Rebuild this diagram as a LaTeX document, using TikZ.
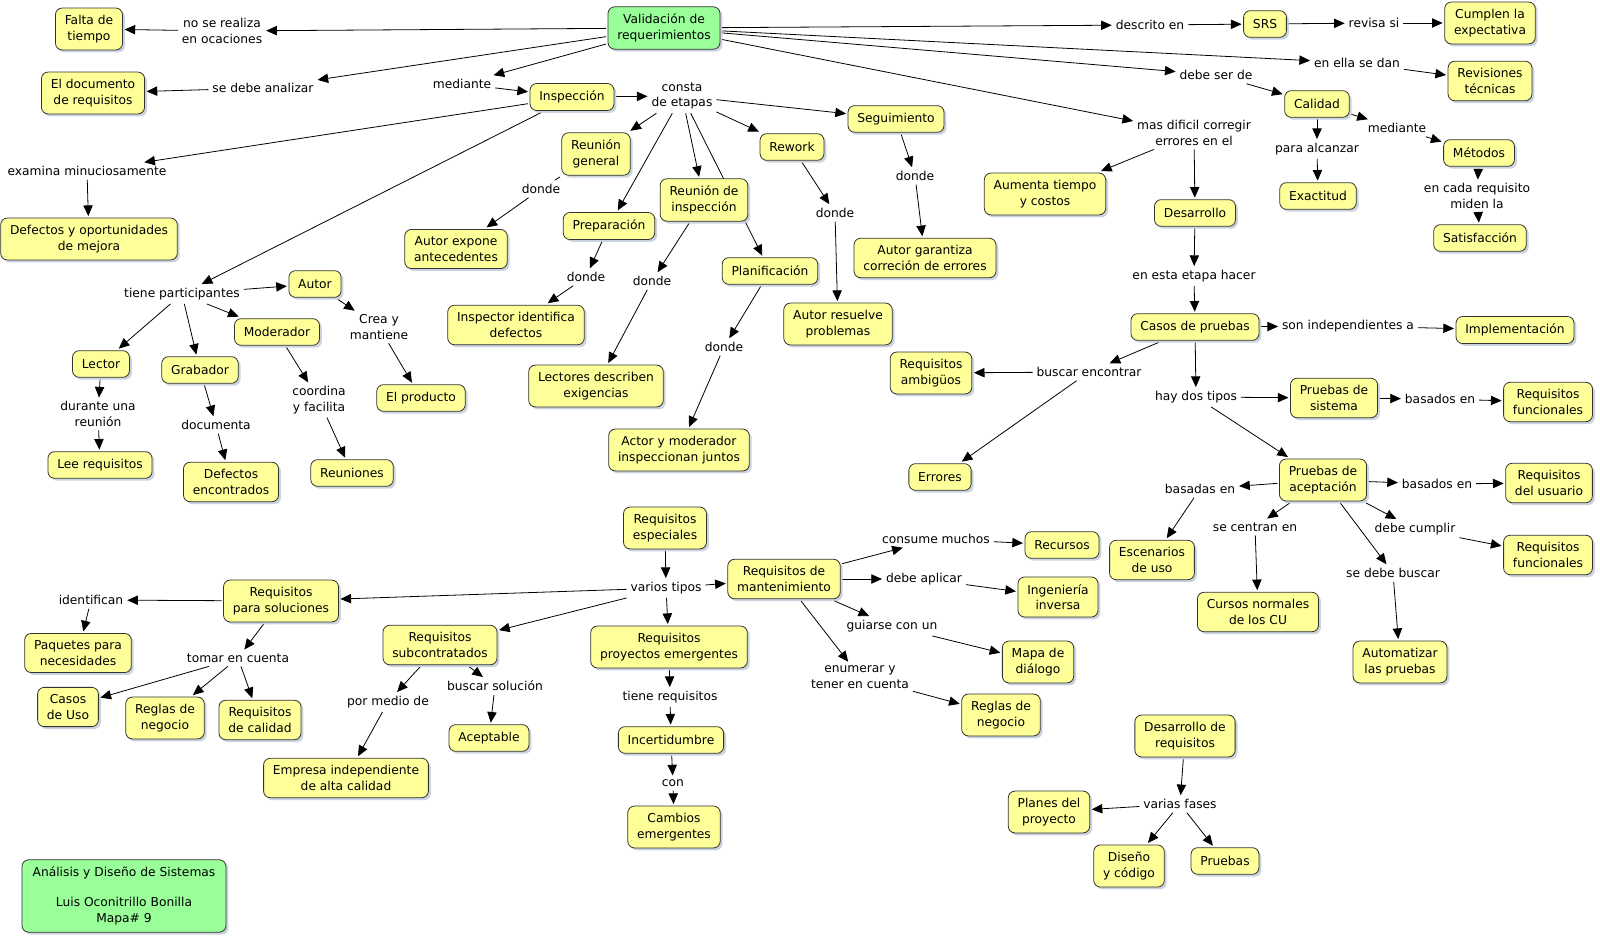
\documentclass[tikz,border=0pt]{standalone}
\usepackage{fontspec}
\setmainfont{DejaVu Sans}
\usetikzlibrary{arrows.meta,shadows,backgrounds}
\definecolor{cyel}{RGB}{255,255,153}
\definecolor{cgrn}{RGB}{153,255,153}
\definecolor{cshd}{RGB}{190,200,215}

\begin{document}
\begin{tikzpicture}[x=0.75pt,y=-0.75pt,
	font=\fontsize{9.2}{11.5}\selectfont,
	cpt/.style={draw=black!80,line width=0.6pt,fill=cyel,rounded corners=5pt,align=center,
		inner xsep=7pt,inner ysep=5.5pt,minimum height=20pt,outer sep=1.5pt,
		drop shadow={shadow xshift=1.8pt,shadow yshift=-1.8pt,fill=cshd,opacity=0.8}},
	top/.style={cpt,fill=cgrn},
	lnk/.style={align=center,inner sep=2pt,outer sep=1pt},
	arr/.style={-{Triangle[length=8pt,width=7pt]},line width=0.6pt}]
\useasboundingbox (0,0) rectangle (1600,937);

% conceptos
\node[top] (val) at (664,28) {Validación de\\requerimientos};
\node[cpt] (falta) at (89,29) {Falta de\\tiempo};
\node[cpt] (doc) at (93,93) {El documento\\de requisitos};
\node[cpt] (defop) at (89,239) {Defectos y oportunidades\\de mejora};
\node[cpt] (insp) at (572,97) {Inspección};
\node[cpt] (rgen) at (596,154) {Reunión\\general};
\node[cpt] (prep) at (609,226) {Preparación};
\node[cpt] (rins) at (704,200) {Reunión de\\inspección};
\node[cpt] (rework) at (792,147) {Rework};
\node[cpt] (seg) at (896,119) {Seguimiento};
\node[cpt] (plan) at (770,271) {Planificación};
\node[cpt] (autexp) at (456,249) {Autor expone\\antecedentes};
\node[cpt] (inspid) at (516,325) {Inspector identifica\\defectos};
\node[cpt] (lecdes) at (596,386) {Lectores describen\\exigencias};
\node[cpt] (actmod) at (679,450) {Actor y moderador\\inspeccionan juntos};
\node[cpt] (autres) at (838,324) {Autor resuelve\\problemas};
\node[cpt] (autgar) at (925,258) {Autor garantiza\\correción de errores};
\node[cpt] (aum) at (1045,194) {Aumenta tiempo\\y costos};
\node[cpt] (desa) at (1195,213) {Desarrollo};
\node[cpt] (srs) at (1265,24) {SRS};
\node[cpt] (cumpl) at (1490,23) {Cumplen la\\expectativa};
\node[cpt] (revtec) at (1490,81) {Revisiones\\técnicas};
\node[cpt] (cal) at (1317,104) {Calidad};
\node[cpt] (exact) at (1318,196) {Exactitud};
\node[cpt] (met) at (1479,153) {Métodos};
\node[cpt] (satis) at (1480,238) {Satisfacción};
\node[cpt] (autor) at (315,284) {Autor};
\node[cpt] (moder) at (277,332) {Moderador};
\node[cpt] (lector) at (101,364) {Lector};
\node[cpt] (grab) at (200,370) {Grabador};
\node[cpt] (prod) at (421,398) {El producto};
\node[cpt] (leereq) at (100,465) {Lee requisitos};
\node[cpt] (defenc) at (231,482) {Defectos\\encontrados};
\node[cpt] (reun) at (352,473) {Reuniones};
\node[cpt] (casos) at (1195,327) {Casos de pruebas};
\node[cpt] (impl) at (1515,330) {Implementación};
\node[cpt] (ramb) at (931,373) {Requisitos\\ambigüos};
\node[cpt] (err) at (940,477) {Errores};
\node[cpt] (psis) at (1334,398) {Pruebas de\\sistema};
\node[cpt] (rfun) at (1548,402) {Requisitos\\funcionales};
\node[cpt] (pacep) at (1323,480) {Pruebas de\\aceptación};
\node[cpt] (rusu) at (1549,483) {Requisitos\\del usuario};
\node[cpt] (esc) at (1152,560) {Escenarios\\de uso};
\node[cpt] (cursos) at (1258,612) {Cursos normales\\de los CU};
\node[cpt] (rfunb) at (1548,555) {Requisitos\\funcionales};
\node[cpt] (autom) at (1400,662) {Automatizar\\las pruebas};
\node[cpt] (resp) at (665,528) {Requisitos\\especiales};
\node[cpt] (rmant) at (784,579) {Requisitos de\\mantenimiento};
\node[cpt] (rpem) at (669,647) {Requisitos\\proyectos emergentes};
\node[cpt] (rsol) at (281,601) {Requisitos\\para soluciones};
\node[cpt] (paq) at (78,653) {Paquetes para\\necesidades};
\node[cpt] (cuso) at (68,707) {Casos\\de Uso};
\node[cpt] (rneg) at (165,718) {Reglas de\\negocio};
\node[cpt] (rcal) at (260,720) {Requisitos\\de calidad};
\node[cpt] (rsub) at (440,645) {Requisitos\\subcontratados};
\node[cpt] (empr) at (346,778) {Empresa independiente\\de alta calidad};
\node[cpt] (acep) at (489,738) {Aceptable};
\node[cpt] (incer) at (671,740) {Incertidumbre};
\node[cpt] (camb) at (674,827) {Cambios\\emergentes};
\node[cpt] (recur) at (1062,545) {Recursos};
\node[cpt] (ingi) at (1058,597) {Ingeniería\\inversa};
\node[cpt] (mapa) at (1038,662) {Mapa de\\diálogo};
\node[cpt] (rnegb) at (1001,715) {Reglas de\\negocio};
\node[cpt] (dreq) at (1185,736) {Desarrollo de\\requisitos};
\node[cpt] (planes) at (1049,812) {Planes del\\proyecto};
\node[cpt] (dise) at (1129,866) {Diseño\\y código};
\node[cpt] (prue) at (1225,861) {Pruebas};
\node[top,inner xsep=8pt] (anal) at (124,896) {Análisis y Diseño de Sistemas\\[11pt]Luis Oconitrillo Bonilla\\Mapa\# 9};

% frases de enlace
\node[lnk] (lnoreal) at (222,31) {no se realiza\\en ocaciones};
\node[lnk] (ldebana) at (263,88) {se debe analizar};
\node[lnk] (lmed) at (462,84) {mediante};
\node[lnk] (lexam) at (87,171) {examina minuciosamente};
\node[lnk] (lcons) at (682,96) {consta\\de etapas};
\node[lnk] (ldon1) at (541,189) {donde};
\node[lnk] (ldon2) at (586,277) {donde};
\node[lnk] (ldon3) at (652,281) {donde};
\node[lnk] (ldon4) at (724,347) {donde};
\node[lnk] (ldon5) at (835,213) {donde};
\node[lnk] (ldon6) at (915,176) {donde};
\node[lnk] (ldesc) at (1150,25) {descrito en};
\node[lnk] (lrev) at (1374,23) {revisa si};
\node[lnk] (lella) at (1357,63) {en ella se dan};
\node[lnk] (ldebser) at (1216,75) {debe ser de};
\node[lnk] (lmasdif) at (1194,133) {mas dificil corregir\\errores en el};
\node[lnk] (lmedb) at (1397,128) {mediante};
\node[lnk] (lpara) at (1317,149) {para alcanzar};
\node[lnk] (lcada) at (1477,196) {en cada requisito\\miden la};
\node[lnk] (letapa) at (1194,276) {en esta etapa hacer};
\node[lnk] (ltiene) at (182,294) {tiene participantes};
\node[lnk] (lcrea) at (379,327) {Crea y\\mantiene};
\node[lnk] (ldur) at (98,414) {durante una\\reunión};
\node[lnk] (ldoc) at (216,425) {documenta};
\node[lnk] (lcoor) at (319,400) {coordina\\y facilita};
\node[lnk] (lson) at (1348,326) {son independientes a};
\node[lnk] (lbus) at (1089,372) {buscar encontrar};
\node[lnk] (lhay) at (1196,397) {hay dos tipos};
\node[lnk] (lbas1) at (1440,399) {basados en};
\node[lnk] (lbas2) at (1437,484) {basados en};
\node[lnk] (lbasd) at (1200,489) {basadas en};
\node[lnk] (lcent) at (1255,527) {se centran en};
\node[lnk] (lcump) at (1415,529) {debe cumplir};
\node[lnk] (lbusc) at (1393,573) {se debe buscar};
\node[lnk] (lvar) at (666,588) {varios tipos};
\node[lnk] (liden) at (91,600) {identifican};
\node[lnk] (ltomar) at (238,658) {tomar en cuenta};
\node[lnk] (lpor) at (388,702) {por medio de};
\node[lnk] (lsol) at (495,686) {buscar solución};
\node[lnk] (ltreq) at (670,697) {tiene requisitos};
\node[lnk] (lcon) at (673,783) {con};
\node[lnk] (lcons2) at (936,539) {consume muchos};
\node[lnk] (lapl) at (924,579) {debe aplicar};
\node[lnk] (lgui) at (892,626) {guiarse con un};
\node[lnk] (lenum) at (860,677) {enumerar y\\tener en cuenta};
\node[lnk] (lfases) at (1180,804) {varias fases};

\begin{pgfonlayer}{background}
\fill[white] (0,0) rectangle (1600,937);
\draw[arr] (val) -- (lnoreal);
\draw[arr] (lnoreal) -- (falta);
\draw[arr] (val) -- (ldebana);
\draw[arr] (ldebana) -- (doc);
\draw[arr] (val) -- (lmed);
\draw[arr] (lmed) -- (insp);
\draw[arr] (insp) -- (lcons);
\draw[arr] (lcons) -- (rgen);
\draw[arr] (lcons) -- (prep);
\draw[arr] (lcons) -- (rins);
\draw[arr] (lcons) -- (plan);
\draw[arr] (lcons) -- (rework);
\draw[arr] (lcons) -- (seg);
\draw[line width=0.6pt] (rgen) -- (ldon1);
\draw[arr] (ldon1) -- (autexp);
\draw[arr] (prep) -- (ldon2);
\draw[arr] (ldon2) -- (inspid);
\draw[arr] (rins) -- (ldon3);
\draw[arr] (ldon3) -- (lecdes);
\draw[arr] (plan) -- (ldon4);
\draw[arr] (ldon4) -- (actmod);
\draw[arr] (rework) -- (ldon5);
\draw[arr] (ldon5) -- (autres);
\draw[arr] (seg) -- (ldon6);
\draw[arr] (ldon6) -- (autgar);
\draw[arr] (val) -- (ldesc);
\draw[arr] (ldesc) -- (srs);
\draw[arr] (srs) -- (lrev);
\draw[arr] (lrev) -- (cumpl);
\draw[arr] (val) -- (lella);
\draw[arr] (lella) -- (revtec);
\draw[arr] (val) -- (ldebser);
\draw[arr] (ldebser) -- (cal);
\draw[arr] (val) -- (lmasdif);
\draw[arr] (lmasdif) -- (aum);
\draw[arr] (lmasdif) -- (desa);
\draw[arr] (cal) -- (lpara);
\draw[arr] (lpara) -- (exact);
\draw[arr] (cal) -- (lmedb);
\draw[arr] (lmedb) -- (met);
\draw[arr] (met) -- (lcada);
\draw[arr] (lcada) -- (satis);
\draw[arr] (insp) -- (lexam);
\draw[arr] (lexam) -- (defop);
\draw[arr] (insp) -- (ltiene);
\draw[arr] (ltiene) -- (autor);
\draw[arr] (ltiene) -- (moder);
\draw[arr] (ltiene) -- (lector);
\draw[arr] (ltiene) -- (grab);
\draw[arr] (autor) -- (lcrea);
\draw[arr] (lcrea) -- (prod);
\draw[arr] (lector) -- (ldur);
\draw[arr] (ldur) -- (leereq);
\draw[arr] (grab) -- (ldoc);
\draw[arr] (ldoc) -- (defenc);
\draw[arr] (moder) -- (lcoor);
\draw[arr] (lcoor) -- (reun);
\draw[arr] (desa) -- (letapa);
\draw[arr] (letapa) -- (casos);
\draw[arr] (casos) -- (lson);
\draw[arr] (lson) -- (impl);
\draw[arr] (casos) -- (lbus);
\draw[arr] (lbus) -- (ramb);
\draw[arr] (lbus) -- (err);
\draw[arr] (casos) -- (lhay);
\draw[arr] (lhay) -- (psis);
\draw[arr] (lhay) -- (pacep);
\draw[arr] (psis) -- (lbas1);
\draw[arr] (lbas1) -- (rfun);
\draw[arr] (pacep) -- (lbas2);
\draw[arr] (lbas2) -- (rusu);
\draw[arr] (pacep) -- (lbasd);
\draw[arr] (lbasd) -- (esc);
\draw[arr] (pacep) -- (lcent);
\draw[arr] (lcent) -- (cursos);
\draw[arr] (pacep) -- (lcump);
\draw[arr] (lcump) -- (rfunb);
\draw[arr] (pacep) -- (lbusc);
\draw[arr] (lbusc) -- (autom);
\draw[arr] (resp) -- (lvar);
\draw[arr] (lvar) -- (rmant);
\draw[arr] (lvar) -- (rpem);
\draw[arr] (lvar) -- (rsol);
\draw[arr] (lvar) -- (rsub);
\draw[arr] (rsol) -- (liden);
\draw[arr] (liden) -- (paq);
\draw[arr] (rsol) -- (ltomar);
\draw[arr] (ltomar) -- (cuso);
\draw[arr] (ltomar) -- (rneg);
\draw[arr] (ltomar) -- (rcal);
\draw[arr] (rsub) -- (lpor);
\draw[arr] (lpor) -- (empr);
\draw[arr] (rsub) -- (lsol);
\draw[arr] (lsol) -- (acep);
\draw[arr] (rpem) -- (ltreq);
\draw[arr] (ltreq) -- (incer);
\draw[arr] (incer) -- (lcon);
\draw[arr] (lcon) -- (camb);
\draw[arr] (rmant) -- (lcons2);
\draw[arr] (lcons2) -- (recur);
\draw[arr] (rmant) -- (lapl);
\draw[arr] (lapl) -- (ingi);
\draw[arr] (rmant) -- (lgui);
\draw[arr] (lgui) -- (mapa);
\draw[arr] (rmant) -- (lenum);
\draw[arr] (lenum) -- (rnegb);
\draw[arr] (dreq) -- (lfases);
\draw[arr] (lfases) -- (planes);
\draw[arr] (lfases) -- (dise);
\draw[arr] (lfases) -- (prue);
\end{pgfonlayer}
\end{tikzpicture}
\end{document}
